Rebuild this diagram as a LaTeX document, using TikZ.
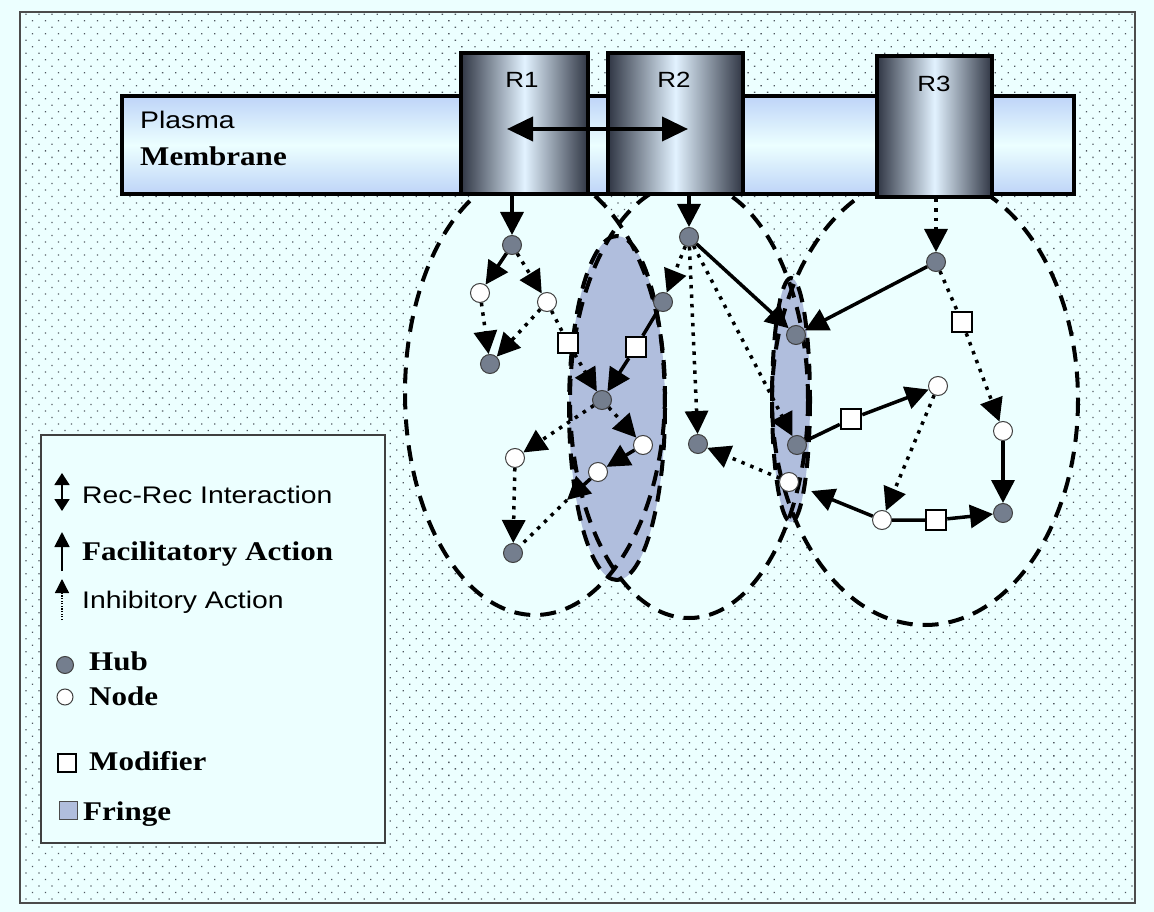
\documentclass[tikz,border=0pt]{standalone}
\usepackage{fontspec}
\newfontfamily\labsans[FakeStretch=1.18]{Liberation Sans}
\newfontfamily\labserif[FakeStretch=1.15]{Liberation Serif}
\usetikzlibrary{arrows.meta, patterns.meta, positioning, calc}

\definecolor{bgcyan}{RGB}{236,255,255}
\definecolor{dotgray}{RGB}{80,88,96}
\definecolor{hubgray}{RGB}{116,126,142}
\definecolor{fringeblue}{RGB}{176,190,221}
\definecolor{memblue}{RGB}{190,212,248}
\definecolor{recdark}{RGB}{48,54,68}
\definecolor{reclight}{RGB}{226,242,255}

\begin{document}
\begin{tikzpicture}[x=1pt, y=-1pt,
    hub/.style={circle, fill=hubgray, draw=black!75, line width=1pt, minimum size=19pt, inner sep=0pt},
    nd/.style={circle, fill=white, draw=black!75, line width=1pt, minimum size=19pt, inner sep=0pt},
    modif/.style={rectangle, fill=white, draw=black, line width=2.5pt, minimum size=20pt, inner sep=0pt},
    fac/.style={line width=3.5pt, -{Triangle[length=23pt, width=23pt]}},
    inh/.style={line width=3.5pt, dash pattern=on 3.5pt off 6pt, -{Triangle[length=23pt, width=23pt]}},
    recscope/.style={dash pattern=on 16pt off 10pt, line width=4pt},
    membrane/.style={draw=black, line width=3.5pt, top color=memblue, bottom color=memblue, middle color=bgcyan, minimum width=952pt, minimum height=98pt, inner sep=0pt},
    receptor/.style={draw=black, line width=3.5pt, left color=recdark, right color=recdark, middle color=reclight, minimum height=141pt, inner sep=0pt},
    sanslab/.style={font=\labsans\fontsize{24}{28}\selectfont, inner sep=0pt},
    seriflab/.style={font=\labserif\bfseries\fontsize{27}{31}\selectfont, inner sep=0pt},
    reclab/.style={font=\labsans\fontsize{22}{26}\selectfont, inner sep=0pt}]

    % 1. 背景与点状外框
    \fill[bgcyan] (0,0) rectangle (1154,912);
    \useasboundingbox (0,0) rectangle (1154,912);
    \draw[draw=black!70, line width=1.5pt, pattern={Dots[distance=9.2pt, angle=45, radius=0.9pt]}, pattern color=dotgray] (20,12) rectangle (1135,903);

    % 2. 图例框
    \draw[fill=bgcyan, draw=black!75, line width=1.5pt] (41,435) rectangle (385,843);

    % 3. 三个受体作用域 (虚线椭圆) 与两个边缘区
    \foreach \cx/\cy/\rx/\ry in {535/393/130/222, 689/400/119/218, 925/400/153/225}
        \fill[bgcyan] (\cx,\cy) ellipse [x radius=\rx, y radius=\ry];
    \fill[fringeblue] (617,408) ellipse [x radius=48, y radius=172];
    \fill[fringeblue] (791,400) ellipse [x radius=19, y radius=122];
    \foreach \cx/\cy/\rx/\ry in {535/393/130/222, 689/400/119/218, 925/400/153/225, 617/408/48/172, 791/400/19/122}
        \draw[recscope] (\cx,\cy) ellipse [x radius=\rx, y radius=\ry];

    % 4. 细胞膜与受体
    \node[membrane] (PM) at (598,145) {};
    \node[sanslab, anchor=base west] (plasma) at (140,129) {Plasma};
    \node[seriflab, anchor=base west] (membr) at (140,166) {Membrane};

    \node[receptor, minimum width=127pt] (R1) at (524.5,123.5) {};
    \node[receptor, minimum width=135pt] (R2) at (675.5,123.5) {};
    \node[receptor, minimum width=115pt] (R3) at (934.5,126.5) {};
    \node[reclab, anchor=base] (lR1) at (522,88) {R1};
    \node[reclab, anchor=base] (lR2) at (674,88) {R2};
    \node[reclab, anchor=base] (lR3) at (934,92) {R3};

    % 受体之间的相互作用
    \coordinate (rr1) at (507,129);
    \coordinate (rr2) at (688,129);
    \draw[line width=4pt, {Triangle[length=26pt, width=24pt]}-{Triangle[length=26pt, width=24pt]}] (rr1) -- (rr2);

    % 5. 网络节点
    % R1 作用域
    \node[hub] (h1) at (512,245) {};
    \node[nd]  (n1) at (480,293) {};
    \node[nd]  (n2) at (547,302) {};
    \node[hub] (h2) at (490,364) {};
    \node[modif] (m1) at (568,343) {};
    \node[hub] (h3) at (602,400) {};
    \node[nd]  (n3) at (643,445) {};
    \node[nd]  (n4) at (598,472) {};
    \node[nd]  (n5) at (515,458) {};
    \node[hub] (h5) at (513,553) {};
    \coordinate (kink) at (567,500);
    % R2 作用域
    \node[hub] (h6) at (689,237) {};
    \node[hub] (h4) at (663,302) {};
    \node[modif] (m2) at (636,347) {};
    \node[hub] (h8) at (698,444) {};
    \node[hub] (h7) at (796,335) {};
    \node[hub] (h9) at (797,445) {};
    \node[nd]  (n6) at (789,482) {};
    % R3 作用域
    \node[hub] (h10) at (936,262) {};
    \node[modif] (m3) at (962,322) {};
    \node[nd]  (n7) at (1003,431) {};
    \node[hub] (h11) at (1003,513) {};
    \node[modif] (m4) at (851,419) {};
    \node[nd]  (n8) at (938,386) {};
    \node[nd]  (n9) at (882,520) {};
    \node[modif] (m5) at (936,520) {};

    % 6. 连线: 促进 (实线) 与抑制 (点线)
    \draw[fac] (R1.south -| h1) -- (h1);
    \draw[fac] (R2.south -| h6) -- (h6);
    \draw[inh] (R3.south -| h10) -- (h10);

    \foreach \a/\b in {h1/n1, n3/n4, h6/h7, h10/h7, n7/h11}
        \draw[fac] (\a) -- (\b);
    \foreach \a/\b in {h1/n2, n1/h2, n2/h2, h3/n3, h3/n5, n5/h5, h6/h4, h6/h8, h6/h9, n6/h8, n8/n9}
        \draw[inh] (\a) -- (\b);

    % 经过调节子的通路
    \draw[inh] (n2) -- (m1) -- (h3);
    \draw[fac] (h4) -- (m2) -- (h3);
    \draw[inh] (h10) -- (m3) -- (n7);
    \draw[fac] (h9) -- (m4) -- (n8);
    \draw[fac] (n9) -- (m5) -- (h11);
    \draw[fac, shorten >=14pt] (n9) -- (n6);
    \draw[fac] (n4) -- (kink);
    \draw[inh, -] (kink) -- (h5);

    % 7. 图例
    \draw[line width=1.8pt, {Triangle[length=12pt, width=15pt]}-{Triangle[length=12pt, width=15pt]}] (62,473) -- (62,511);
    \draw[line width=1.8pt, -{Triangle[length=15pt, width=15pt]}] (62,571) -- (62,532);
    \draw[line width=1.3pt, dash pattern=on 1.3pt off 1.3pt, -{Triangle[length=14pt, width=14pt]}] (62,620) -- (62,579);
    \node[sanslab, anchor=base west] (lg1) at (82,503) {Rec-Rec Interaction};
    \node[seriflab, anchor=base west] (lg2) at (82,560) {Facilitatory Action};
    \node[sanslab, anchor=base west] (lg3) at (82,608) {Inhibitory Action};

    \node[hub, minimum size=17pt] (lhub) at (65,665) {};
    \node[nd, minimum size=16pt] (lnode) at (65,697) {};
    \node[modif, minimum size=18pt, line width=2pt] (lmod) at (67,763) {};
    \node[fill=fringeblue, draw=black!70, line width=1pt, minimum size=18pt, inner sep=0pt] (lfr) at (68,810) {};
    \node[seriflab, anchor=base west] (lg4) at (89,670) {Hub};
    \node[seriflab, anchor=base west] (lg5) at (89,705) {Node};
    \node[seriflab, anchor=base west] (lg6) at (89,770) {Modifier};
    \node[seriflab, anchor=base west] (lg7) at (83,820) {Fringe};

\end{tikzpicture}
\end{document}
